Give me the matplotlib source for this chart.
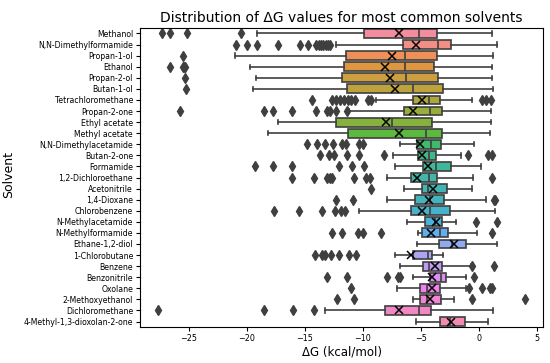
import numpy as np
import matplotlib
matplotlib.use("Agg")
import matplotlib.pyplot as plt
import seaborn as sns

# Solvents, top to bottom
solvents = ["Methanol", "N,N-Dimethylformamide", "Propan-1-ol", "Ethanol", "Propan-2-ol",
            "Butan-1-ol", "Tetrachloromethane", "Propan-2-one", "Ethyl acetate", "Methyl acetate",
            "N,N-Dimethylacetamide", "Butan-2-one", "Formamide", "1,2-Dichloroethane",
            "Acetonitrile", "1,4-Dioxane", "Chlorobenzene", "N-Methylacetamide",
            "N-Methylformamide", "Ethane-1,2-diol", "1-Chlorobutane", "Benzene", "Benzonitrile",
            "Oxolane", "2-Methoxyethanol", "Dichloromethane", "4-Methyl-1,3-dioxolan-2-one"]

# box statistics (kcal/mol)
whislo = [-19.15, -12.33, -21.04, -19.72, -19.2, -19.44, -8.89, -11.18, -17.29, -18.15,
          -6.83, -7.4, -7.23, -7.97, -6.46, -7.97, -10.32, -6.17, -5.25, -5.31,
          -7.26, -6.83, -5.66, -7.09, -5.68, -13.28, -5.4]
q1 = [-9.9, -6.52, -11.47, -11.61, -11.81, -11.41, -5.68, -6.46, -12.33, -11.27,
      -5.31, -5.28, -4.8, -5.88, -4.94, -5.54, -5.83, -4.65, -4.88, -3.45,
      -5.66, -4.8, -4.22, -5.11, -5.08, -8.12, -3.36]
med = [-5.22, -3.51, -6.37, -6.4, -6.31, -5.68, -4.31, -4.22, -7.46, -4.59,
       -4.17, -4.31, -3.74, -4.36, -4.37, -4.2, -4.25, -3.8, -3.39, -2.3,
       -4.37, -4.3, -3.3, -4.45, -4.5, -5.17, -2.5]
q3 = [-3.59, -2.45, -3.65, -3.85, -3.56, -3.1, -3.39, -3.16, -4.02, -3.16,
      -3.28, -3.68, -2.39, -3.65, -2.79, -3.02, -2.5, -3.16, -2.65, -1.15,
      -4.08, -3.22, -2.87, -3.39, -3.31, -4.11, -1.24]
whishi = [1.08, 1.57, 1.19, 1.14, 1.08, 1.19, -0.58, 0.99, 0.99, 0.91,
          -0.44, -1.53, 0.19, -0.5, -0.64, 0.6, 1.34, -2.01, -0.15, 1.51,
          -3.08, -0.72, -1.15, -1.15, -2.16, 1.2, 0.79]
means = [-6.89, -5.46, -7.54, -8.09, -7.66, -7.26, -4.94, -5.68, -8.03, -6.89,
         -5.09, -4.88, -4.4, -5.37, -3.94, -4.31, -4.94, -3.73, -4.16, -2.16,
         -5.83, -3.82, -4.02, -4.02, -4.25, -6.89, -2.39]
fliers = [
    [-27.3, -26.6, -25.1, -20.5],
    [-20.9, -20.0, -19.1, -17.3, -15.4, -14.7, -14.0, -13.8, -13.6, -13.4, -13.2, -13.0, -12.8],
    [-25.5],
    [-26.6, -25.5, -25.4, -25.3],
    [-25.3],
    [-25.2],
    [-14.4, -12.7, -12.3, -12.0, -11.6, -11.3, -11.0, -10.7, -9.6, -9.3, 0.2, 0.6, 1.0],
    [-25.7, -18.5, -17.7, -16.1, -14.0, -13.1, -12.8, -12.3, -11.4],
    [],
    [],
    [-14.85, -13.96, -13.28, -12.56, -11.82, -11.47, -10.38, -9.98],
    [-13.68, -12.96, -12.47, -11.41, -10.38, -8.17, -0.93, 0.79, 1.08],
    [-19.26, -17.77, -16.14, -12.1, -10.9, -9.95],
    [-16.11, -14.25, -13.1, -12.85, -12.67, -10.8, -9.75, -9.38, 1.14],
    [-9.27],
    [-12.33, -10.84, 1.23, 1.4],
    [-17.63, -15.48, -13.54, -12.42, -11.9, -11.56],
    [-0.24, 1.57],
    [-12.67, -11.76, -10.41, -10.03, -8.46, 1.14],
    [],
    [-14.1, -13.48, -13.25, -12.76, -12.1, -11.18, -10.61],
    [-0.6, 1.28],
    [-13.1, -11.41, -7.97, -6.95, -6.85, -0.44],
    [-11.0, -0.87, 0.22, 0.91, 1.1],
    [-12.19, -10.75, -0.64, 3.92],
    [-27.6, -18.49, -16.0, -14.2],
    [],
]

stats = []
for i in range(len(solvents)):
    stats.append(dict(label=solvents[i], whislo=whislo[i], q1=q1[i], med=med[i], q3=q3[i],
                      whishi=whishi[i], mean=means[i], fliers=fliers[i]))

# husl colours like seaborn uses for many categories
colors = [sns.desaturate(c, 0.9) for c in sns.husl_palette(len(solvents), l=.7)]
gray = "#3f3f3f"

fig = plt.figure(figsize=(5.5, 3.63), dpi=100)
ax = fig.add_axes([0.2545, 0.099, 0.733, 0.824])

bp = ax.bxp(stats, positions=np.arange(len(solvents)), widths=0.8, vert=False,
            patch_artist=True, showmeans=True,
            boxprops=dict(edgecolor=gray, linewidth=1.2),
            whiskerprops=dict(color=gray, linewidth=1.2),
            capprops=dict(color=gray, linewidth=1.2),
            medianprops=dict(color=gray, linewidth=1.2),
            flierprops=dict(marker="d", markerfacecolor=gray, markeredgecolor=gray, markersize=5),
            meanprops=dict(marker="x", markeredgecolor="black", markersize=6, markeredgewidth=1.1))
for patch, c in zip(bp["boxes"], colors):
    patch.set_facecolor(c)

ax.set_ylim(len(solvents) - 0.5, -0.5)
ax.set_yticks(np.arange(len(solvents)))
ax.set_yticklabels(solvents)
ax.tick_params(axis="y", labelsize=5.6, length=3, pad=2)
ax.tick_params(axis="x", labelsize=5.8, length=3, pad=2)
ax.set_xlabel("ΔG (kcal/mol)", fontsize=8.5, labelpad=2)
ax.set_ylabel("Solvent", fontsize=9)
ax.yaxis.set_label_coords(-0.31, 0.51)
ax.set_title("Distribution of ΔG values for most common solvents", fontsize=10, pad=4)

fig.savefig("out.png", dpi=100)
